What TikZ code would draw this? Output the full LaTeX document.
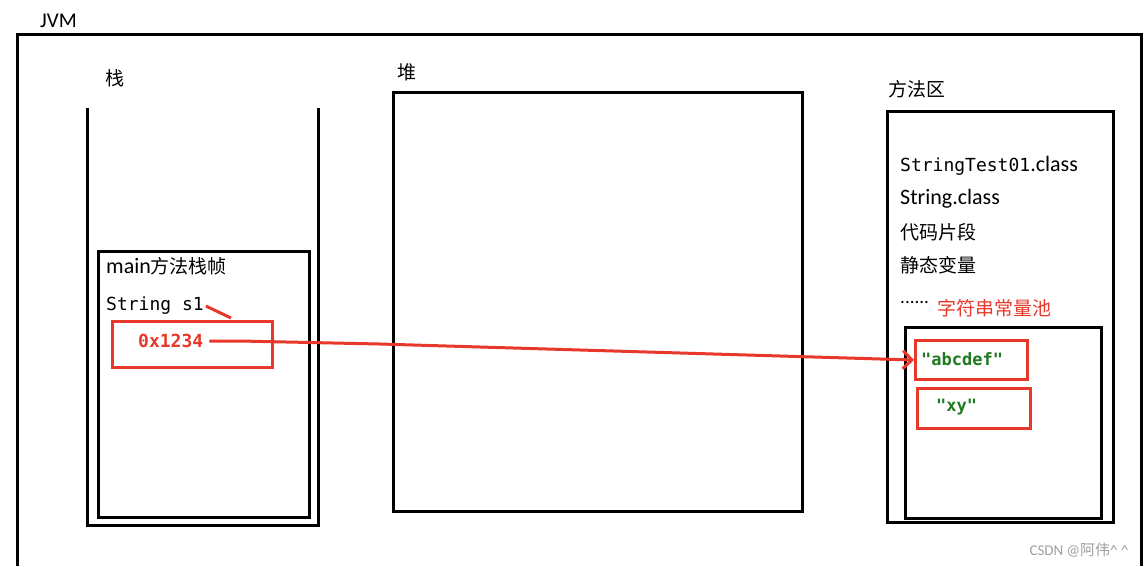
\documentclass[tikz,border=0pt]{standalone}
\usepackage{fontspec}
\setmainfont{Carlito}
\newfontfamily\cjk{Noto Sans CJK SC}
\newfontfamily\mono{DejaVu Sans Mono}
\usetikzlibrary{arrows.meta}
\definecolor{redline}{HTML}{E8382C}
\definecolor{darkgreen}{HTML}{1E7A1E}
\tikzset{
  frame/.style={draw=black, line width=3pt, inner sep=0pt, anchor=north west},
  redbox/.style={draw=redline, line width=3pt, inner sep=0pt, anchor=north west},
  lbl/.style={inner sep=0pt, anchor=west, font=\fontsize{22}{23}\selectfont},
  zh/.style={inner sep=0pt, font=\cjk\fontsize{19}{20}\selectfont},
  code/.style={inner sep=0pt, anchor=west, font=\mono\fontsize{18}{20}\selectfont},
  redarrow/.style={draw=redline, line width=3pt}
}
\begin{document}
\begin{tikzpicture}[x=1pt,y=-1pt]
\useasboundingbox (0,0) rectangle (1147,566);
\fill[white] (0,0) rectangle (1147,566);
% JVM outer
\draw[line width=3pt] (17,566) -- (17,34) -- (1141,34) -- (1141,566);
\node[inner sep=0pt, anchor=base west, font=\fontsize{21}{22}\selectfont] (jvm) at (40,27) {JVM};
% stack
\draw[line width=3pt] (87,108) -- (87,525) -- (318,525) -- (318,108);
\node[zh] (stacklbl) at (115,78) {栈};
\node[frame, minimum width=211pt, minimum height=266pt] (mainframe) at (97,250) {};
\node[lbl] (mainlbl) at (106,266) {main{\cjk\fontsize{19}{20}\selectfont 方法栈帧}};
\node[code] (s1) at (106,306) {String s1};
\node[redbox, minimum width=160pt, minimum height=46pt] (refbox) at (111,320) {};
\node[code, text=redline, font=\mono\bfseries\fontsize{18}{20}\selectfont] (addr) at (138,341) {0x1234};
% heap
\node[frame, minimum width=409pt, minimum height=419pt] (heap) at (392,91) {};
\node[zh] (heaplbl) at (407,72) {堆};
% method area
\node[frame, minimum width=226pt, minimum height=411pt] (method) at (886,110) {};
\node[zh, anchor=west] (methodlbl) at (888,89) {方法区};
\node[lbl] (t1) at (900,166) {{\mono\fontsize{18}{20}\selectfont StringTest01}.class};
\node[lbl] (t2) at (900,199) {String.class};
\node[zh, anchor=west] (t3) at (900,232) {代码片段};
\node[zh, anchor=west] (t4) at (900,265) {静态变量};
\node[lbl, font=\fontsize{19}{20}\selectfont] (t5) at (900,302) {......};
\node[zh, anchor=west, text=redline] (poollbl) at (937,308) {字符串常量池};
\node[frame, minimum width=196pt, minimum height=191pt] (pool) at (904,326) {};
\node[redbox, minimum width=112pt, minimum height=39pt] (abcbox) at (914,339) {};
\node[code, text=darkgreen, font=\mono\bfseries\fontsize{17}{20}\selectfont] (abc) at (921,359) {"abcdef"};
\node[redbox, minimum width=113pt, minimum height=40pt] (xybox) at (916,387) {};
\node[code, text=darkgreen, font=\mono\bfseries\fontsize{17}{20}\selectfont] (xy) at (936,407) {"xy"};
% connectors
\coordinate (tick) at (231,318);
\draw[redarrow] ([xshift=2pt]s1.east) -- (tick);
\draw[redarrow, -{Straight Barb[length=9pt,width=18pt,line width=3pt]}] ([xshift=6pt]addr.east) -- (240,341) -- (380,344) -- (abcbox.west);
% watermark
\node[inner sep=0pt, text=gray!75, font=\fontsize{15}{16}\selectfont] (wm) at (1079,550) {CSDN @{\cjk\fontsize{15}{16}\selectfont 阿伟}\^{} \^{}};
\end{tikzpicture}
\end{document}
